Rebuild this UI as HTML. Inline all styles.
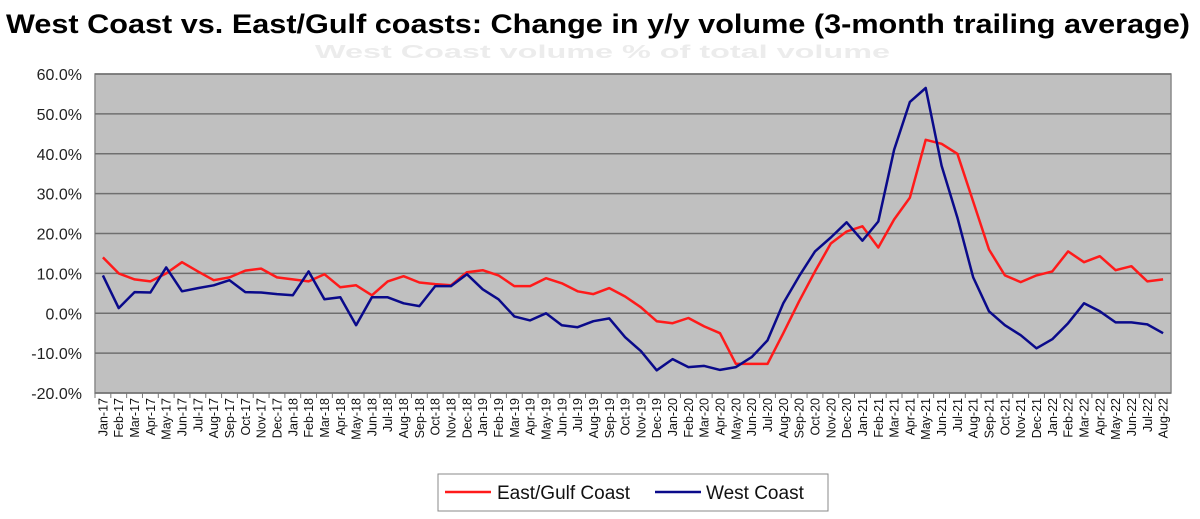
<!DOCTYPE html>
<html><head><meta charset="utf-8"><style>
body{margin:0;background:#fff;width:1200px;height:519px;overflow:hidden}
svg{display:block;font-family:"Liberation Sans",Arial,sans-serif}
</style></head><body>
<svg id="chart" width="1200" height="519" viewBox="0 0 1200 519" xmlns="http://www.w3.org/2000/svg">
<text x="6" y="33" textLength="1184" lengthAdjust="spacingAndGlyphs" font-size="27" font-weight="bold" fill="#000">West Coast vs. East/Gulf coasts: Change in y/y volume (3-month trailing average)</text>
<text x="315" y="58" textLength="575" lengthAdjust="spacingAndGlyphs" font-size="18" font-weight="bold" fill="#ececec">West Coast volume % of total volume</text>
<rect x="95" y="74" width="1076" height="319" fill="#c0c0c0" stroke="#8a8a8a" stroke-width="1.5"/>
<g id="grid"></g><g id="yticks"></g><g id="xticks"></g><g id="series"></g>
<g>
<rect x="438" y="474" width="390" height="37" fill="#fff" stroke="#888" stroke-width="1"/>
<line x1="445" y1="492" x2="491" y2="492" stroke="#ff1a1a" stroke-width="2.5"/>
<text x="497" y="499" font-size="19" fill="#111">East/Gulf Coast</text>
<line x1="655" y1="492" x2="701" y2="492" stroke="#0a0a8a" stroke-width="2.5"/>
<text x="706" y="499" font-size="19" fill="#111">West Coast</text>
</g>
</svg>
<script>
const months=["Jan","Feb","Mar","Apr","May","Jun","Jul","Aug","Sep","Oct","Nov","Dec"];
const categories=[];
for(let y=17;y<=22;y++)for(let m=0;m<12;m++){if(y===22&&m>7)break;categories.push(months[m]+"-"+y);}
const eastGulf=[14,10,8.5,8,10,12.8,10.5,8.3,9,10.7,11.2,9,
8.5,8,9.8,6.5,7,4.5,8,9.3,7.7,7.3,7,10.3,
10.8,9.5,6.8,6.8,8.8,7.5,5.5,4.8,6.3,4.2,1.5,-2,
-2.5,-1.2,-3.3,-5,-12.7,-12.7,-12.7,-5,3,10.5,17.5,20.5,
21.8,16.5,23.5,29,43.5,42.5,40,28,16,9.5,7.8,9.5,
10.5,15.5,12.8,14.3,10.8,11.8,8,8.5];
const westCoast=[9.5,1.3,5.3,5.2,11.5,5.5,6.3,7,8.3,5.3,5.2,4.8,
4.5,10.5,3.5,4,-3,4,4,2.5,1.8,6.8,6.8,9.8,
6,3.5,-0.8,-1.8,0,-3,-3.5,-2,-1.3,-6,-9.5,-14.3,
-11.5,-13.5,-13.2,-14.2,-13.5,-11,-6.8,2.5,9.3,15.5,19,22.8,
18.2,23,41,53,56.5,37,24,9,0.5,-3,-5.5,-8.8,
-6.5,-2.5,2.5,0.5,-2.3,-2.3,-2.8,-5];
const yTicks=[60,50,40,30,20,10,0,-10,-20];
const L=95,W=1076,T=74,H=319,ymin=-20,ymax=60;
const NS="http://www.w3.org/2000/svg";
const step=W/categories.length;
const xs=i=>L+step*(i+0.5);
const ys=v=>T+(ymax-v)/(ymax-ymin)*H;
function mk(t,a,p){const e=document.createElementNS(NS,t);for(const k in a)e.setAttribute(k,a[k]);p.appendChild(e);return e;}
const grid=document.getElementById('grid'),yt=document.getElementById('yticks'),xt=document.getElementById('xticks'),ser=document.getElementById('series');
yTicks.forEach(v=>{
 const g=mk('line',{x1:L,x2:L+W,y1:ys(v),y2:ys(v),stroke:'#6f6f6f','stroke-width':1.5},grid);
 
 
 const t=mk('text',{x:82,y:ys(v)+6,'text-anchor':'end','font-size':16,fill:'#222'},yt);
 t.textContent=v.toFixed(1)+"%";
 
 
});
categories.forEach((c,i)=>{
 const tk=mk('line',{x1:L+step*i,x2:L+step*i,y1:T+H,y2:T+H+5,stroke:'#777','stroke-width':1},xt);
 
 
 const x=xs(i)+4.5,y=T+H+5;
 const t=mk('text',{x:x,y:y,'text-anchor':'end','font-size':12.5,fill:'#111',transform:`rotate(-90 ${x} ${y})`},xt);
 t.textContent=c;
 
 
});
function line(data,color,name){
 const d=data.map((v,i)=>(i?'L':'M')+xs(i).toFixed(1)+' '+ys(v).toFixed(1)).join(' ');
 const p=mk('path',{d:d,fill:'none',stroke:color,'stroke-width':2.5,'stroke-linejoin':'round'},ser);
 
 
}
line(eastGulf,'#ff1a1a','east-gulf-line');
line(westCoast,'#0a0a8a','west-coast-line');
</script>
</body></html>
